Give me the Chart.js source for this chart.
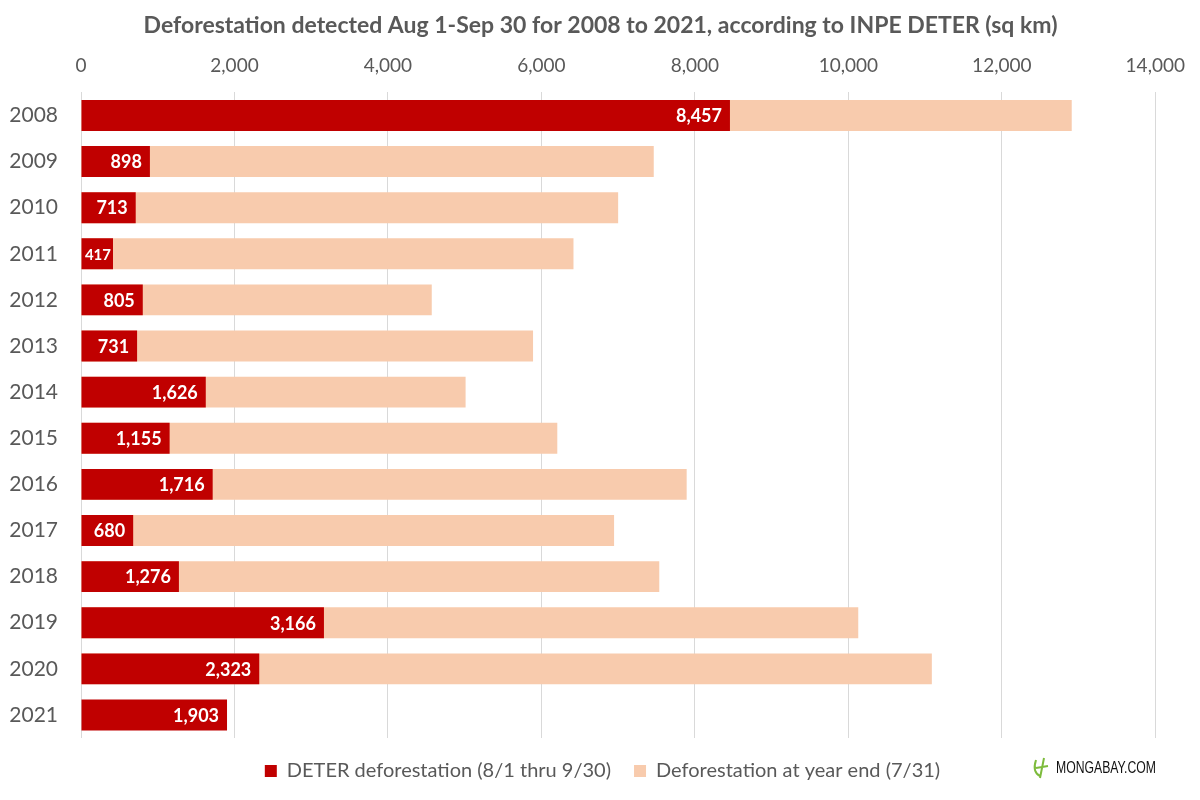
<!DOCTYPE html>
<html>
<head>
<meta charset="utf-8">
<script src="https://cdn.jsdelivr.net/npm/chart.js@4"></script>
<style>
  html, body { margin: 0; padding: 0; background: #fff; }
  #wrap { width: 1200px; height: 800px; }
</style>
</head>
<body>
<div id="wrap"><canvas id="chart"></canvas></div>
<script>
const years = ['2008', '2009', '2010', '2011', '2012', '2013', '2014', '2015', '2016', '2017', '2018', '2019', '2020', '2021']
const deterValues = [8457, 898, 713, 417, 805, 731, 1626, 1155, 1716, 680, 1276, 3166, 2323, 1903]
const yearEndValues = [12911, 7464, 7000, 6418, 4571, 5891, 5012, 6207, 7893, 6947, 7536, 10129, 11088, null]
const xTicks = [0, 2000, 4000, 6000, 8000, 10000, 12000, 14000]

const grey = '#595959'
const fontFam = 'Lato, "Open Sans", sans-serif'

// white value labels at the end of the red bars
const barLabels = {
    id: 'barLabels',
    afterDatasetsDraw(chart) {
        const ctx = chart.ctx
        const meta = chart.getDatasetMeta(0)
        ctx.save()
        ctx.fillStyle = '#fff'
        ctx.textAlign = 'right'
        ctx.textBaseline = 'middle'
        meta.data.forEach((bar, i) => {
            const txt = deterValues[i].toLocaleString('en-US')
            const w = bar.x - bar.base
            let size = 18
            ctx.font = 'bold ' + size + 'px ' + fontFam
            while (ctx.measureText(txt).width > w - 4 && size > 10) {
                size--
                ctx.font = 'bold ' + size + 'px ' + fontFam
            }
            const pad = size < 18 ? 2 : 8
            ctx.fillText(txt, bar.x - pad, bar.y + 1)
        })
        ctx.restore()
    }
}

// centre title and legend on the page rather than the padded box
const shiftBlocks = {
    id: 'shiftBlocks',
    afterLayout(chart) {
        chart.titleBlock.left += 22
        chart.titleBlock.right += 22
        chart.legend.left += 24
        chart.legend.right += 24
    }
}

// source mark bottom right
const sourceMark = {
    id: 'sourceMark',
    afterDraw(chart) {
        const ctx = chart.ctx
        ctx.save()
        ctx.strokeStyle = '#7dbb3c'
        ctx.lineWidth = 2
        ctx.beginPath()
        ctx.moveTo(1036, 760)
        ctx.quadraticCurveTo(1032, 772, 1040, 776)
        ctx.moveTo(1044, 758)
        ctx.lineTo(1040, 778)
        ctx.moveTo(1036, 768)
        ctx.lineTo(1048, 766)
        ctx.stroke()
        ctx.fillStyle = '#111'
        ctx.font = '17px "Liberation Sans", Arial, sans-serif'
        ctx.textBaseline = 'middle'
        ctx.fillText('MONGABAY.COM', 1056, 768, 100)
        ctx.restore()
    }
}

new Chart(document.getElementById('chart'), {
    type: 'bar',
    data: {
        labels: years,
        datasets: [
            {
                label: 'DETER deforestation (8/1 thru 9/30)',
                data: deterValues,
                backgroundColor: '#C00000',
                order: 1
            },
            {
                label: 'Deforestation at year end (7/31)',
                data: yearEndValues,
                backgroundColor: '#F8CBAD',
                order: 2
            }
        ]
    },
    options: {
        indexAxis: 'y',
        responsive: true,
        maintainAspectRatio: false,
        animation: false,
        datasets: {
            bar: { categoryPercentage: 1, barPercentage: 0.67 }
        },
        layout: { padding: { left: 0, right: 43, top: 0, bottom: 9 } },
        scales: {
            x: {
                position: 'top',
                min: 0,
                max: 14000,
                afterBuildTicks: axis => { axis.ticks = xTicks.map(v => ({ value: v })) },
                ticks: {
                    color: grey,
                    font: { family: fontFam, size: 19 },
                    padding: 15,
                    callback: v => v.toLocaleString('en-US')
                },
                grid: { color: '#D9D9D9', drawTicks: false },
                border: { display: false }
            },
            y: {
                stacked: true,
                afterFit: s => { s.width = 81 },
                ticks: {
                    color: grey,
                    font: { family: fontFam, size: 21 },
                    padding: 15
                },
                grid: { display: false },
                border: { display: false }
            }
        },
        plugins: {
            title: {
                display: true,
                text: 'Deforestation detected Aug 1-Sep 30 for 2008 to 2021, according to INPE DETER (sq km)',
                color: grey,
                font: { family: fontFam, size: 23, weight: 'bold' },
                padding: { top: 12, bottom: 0 }
            },
            legend: {
                position: 'bottom',
                labels: {
                    color: grey,
                    font: { family: fontFam, size: 20 },
                    boxWidth: 12,
                    boxHeight: 12,
                    padding: 23
                }
            },
            tooltip: { enabled: false }
        }
    },
    plugins: [barLabels, shiftBlocks, sourceMark]
})
</script>
</body>
</html>
